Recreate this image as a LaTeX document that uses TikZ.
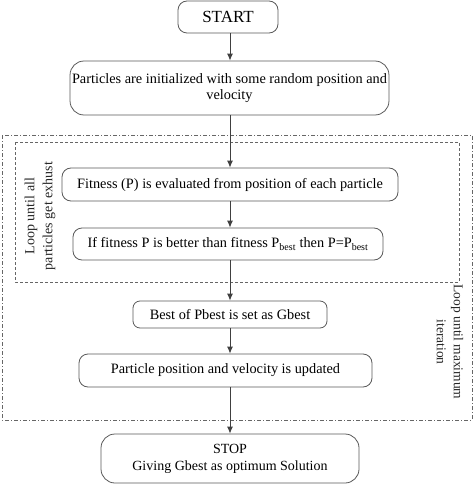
\documentclass[tikz,border=0pt]{standalone}
\usepackage{fontspec}
\usetikzlibrary{arrows.meta}
\setmainfont{Liberation Serif}
\tikzset{
  stepbox/.style={draw=black!65, line width=0.8pt, rounded corners=9pt, align=center, inner sep=2pt, font=\fontsize{14.3}{16.5}\selectfont},
  flow/.style={draw=black!75, line width=0.9pt, -{Latex[length=7pt,width=6pt]}},
  looptext/.style={align=center, text=black!85, font=\fontsize{13.5}{17}\selectfont},
}
\begin{document}
\begin{tikzpicture}[x=1pt,y=-1pt]
		\useasboundingbox (0,0) rectangle (474,484);
		% loop frames
		\draw[black!60, line width=0.7pt, dash pattern=on 4pt off 2pt on 1pt off 2pt](2,135) rectangle (472,420);
		\draw[black!60, line width=0.7pt, dash pattern=on 3pt off 2pt](15,142) rectangle (459,282);
		\node[looptext, rotate=90, font=\fontsize{14}{18}\selectfont] (loopin) at (40,216) {Loop until all\\particles get exhust};
		\node[looptext, rotate=-90] (loopout) at (450,342) {Loop until maximum\\iteration};
		% steps
		\node[stepbox, minimum width=100pt, minimum height=32pt, font=\fontsize{17}{19}\selectfont] (start) at (228,17) {START};
		\node[stepbox, minimum width=317pt, minimum height=54pt, rounded corners=14pt] (init) at (229.5,88) {Particles are initialized with some random position and\\velocity};
		\node[stepbox, minimum width=336pt, minimum height=33pt] (fit) at (230,184.5) {Fitness (P) is evaluated from position of each particle};
		\node[stepbox, minimum width=310pt, minimum height=32pt] (cmp) at (228,244) {If fitness P is better than fitness P\textsubscript{best} then P=P\textsubscript{best}};
		\node[stepbox, minimum width=194pt, minimum height=27pt, rounded corners=7pt] (gbest) at (230,314.5) {Best of Pbest is set as Gbest};
		\node[stepbox, minimum width=293pt, minimum height=33pt] (upd) at (225.5,370.5) {Particle position and velocity is updated};
		\node[stepbox, minimum width=258pt, minimum height=49pt, rounded corners=14pt, font=\fontsize{14}{17}\selectfont] (stop) at (230,458.5) {STOP\\Giving Gbest as optimum Solution};
		% arrows
		\draw[flow] (start.south -| 230,0) -- (init.north -| 230,0);
		\draw[flow] (init.south -| 230,0) -- (fit.north -| 230,0);
		\draw[flow] (fit.south -| 230,0) -- (cmp.north -| 230,0);
		\draw[flow] (cmp.south -| 230,0) -- (gbest.north -| 230,0);
		\draw[flow] (gbest.south -| 230,0) -- (upd.north -| 230,0);
		\draw[flow] (upd.south -| 230,0) -- (stop.north -| 230,0);
		\end{tikzpicture}
\end{document}
